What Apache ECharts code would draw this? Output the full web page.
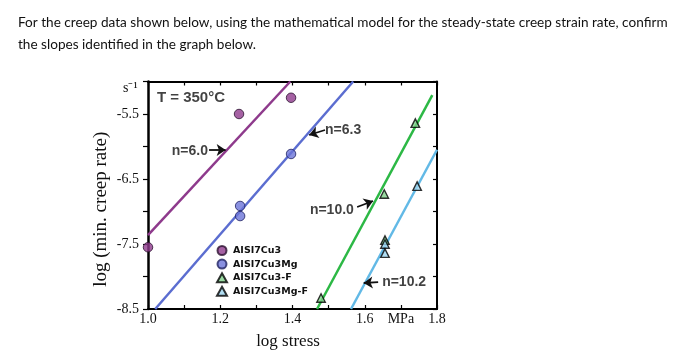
<!DOCTYPE html>
<html>
<head>
<meta charset="utf-8">
<script src="https://cdn.jsdelivr.net/npm/echarts@6/dist/echarts.min.js"></script>
<style>
html,body{margin:0;padding:0;background:#fff;}
#chart{width:696px;height:360px;}
</style>
</head>
<body>
<div id="chart"></div>
<script>
// ---- data (log stress [MPa], log min. creep rate [s^-1]) ----
var seriesNames = ['AISI7Cu3', 'AISI7Cu3Mg', 'AISI7Cu3-F', 'AISI7Cu3Mg-F'];
var cu3Points   = [[1.0, -7.55], [1.252, -5.50], [1.396, -5.25]];
var cu3MgPoints = [[1.255, -6.915], [1.255, -7.07], [1.396, -6.115]];
var cu3FPoints  = [[1.479, -8.33], [1.656, -7.44], [1.654, -6.73], [1.740, -5.64]];
var cu3MgFPoints = [[1.656, -7.50], [1.656, -7.64], [1.745, -6.61]];

// fitted lines (endpoints in data units)
var fit60  = [[1.0, -7.362], [1.394, -5.0]];
var fit63  = [[1.02, -8.5], [1.568, -5.0]];
var fit100 = [[1.468, -8.5], [1.787, -5.21]];
var fit102 = [[1.562, -8.5], [1.8, -6.05]];

// annotation texts and their anchor points
var noteTexts = ['T = 350°C', 'n=6.0', 'n=6.3', 'n=10.0', 'n=10.2'];
var notePoints = [[1.119, -5.254], [1.116, -6.069], [1.540, -5.746], [1.509, -6.977], [1.709, -8.085]];
var arrowFrom = [[1.169, -6.054], [1.490, -5.746], [1.579, -6.931], [1.637, -8.085]];
var arrowTo   = [[1.215, -6.054], [1.446, -5.823], [1.623, -6.838], [1.597, -8.10]];

// tick labels
var xLabelValues = [1.0, 1.2, 1.4, 1.6, 1.7, 1.8];
var xLabelTexts  = ['1.0', '1.2', '1.4', '1.6', 'MPa', '1.8'];
var yLabelValues = [-5.5, -6.5, -7.5, -8.5];
var yLabelTexts  = ['-5.5', '-6.5', '-7.5', '-8.5'];

var titleLines = [
  'For the creep data shown below, using the mathematical model for the steady-state creep strain rate, confirm',
  'the slopes identified in the graph below.'
];

function lookup(vals, texts, v) {
  for (var i = 0; i < vals.length; i++) {
    if (Math.abs(vals[i] - v) < 1e-6) return texts[i];
  }
  return '';
}

var SERIF = 'Liberation Serif';
var SANS = 'Liberation Sans';
var purple = '#8e3a8c', blue = '#5b6dd0', green = '#2cb845', lblue = '#62b9e6';

var chart = echarts.init(document.getElementById('chart'), null, {renderer: 'canvas'});

function fitSeries(name, d, c) {
  return {name: name, type: 'line', data: d, showSymbol: false, symbol: 'none', silent: true,
          lineStyle: {color: c, width: 2.5}, z: 2, animation: false};
}

var markLineData = arrowFrom.map(function (p, i) {
  return [{coord: p}, {coord: arrowTo[i]}];
});

var option = {
  backgroundColor: '#fff',
  animation: false,
  title: {
    text: titleLines.join('\n'),
    left: 13, top: 7,
    textStyle: {fontFamily: 'Lato', fontSize: 13.6, fontWeight: 'normal', color: '#111', lineHeight: 22}
  },
  grid: {left: 148, top: 81.5, width: 289, height: 227.5},
  legend: {
    data: seriesNames.map(function (n) { return {name: n}; }),
    orient: 'vertical',
    left: 216, top: 245, padding: 0,
    itemWidth: 10, itemHeight: 9, itemGap: 2.6,
    selectedMode: false,
    textStyle: {fontFamily: 'DejaVu Sans', fontWeight: 'bold', fontSize: 9.5, color: '#111', padding: [0, 0, 0, 1]}
  },
  xAxis: [{
    type: 'value', min: 1.0, max: 1.8, interval: 0.1, position: 'bottom',
    name: 'log stress', nameLocation: 'middle', nameGap: 24,
    nameTextStyle: {fontFamily: SERIF, fontSize: 17, color: '#111', padding: [0, 9, 0, 0]},
    axisLine: {lineStyle: {color: '#000', width: 2}},
    axisTick: {inside: true, length: 4, lineStyle: {color: '#000', width: 1.2}},
    axisLabel: {margin: 3, fontFamily: SERIF, fontSize: 14, color: '#111',
      formatter: function (v) { return lookup(xLabelValues, xLabelTexts, v); }},
    splitLine: {show: false}
  }, {
    type: 'value', min: 1.0, max: 1.8, interval: 0.1, position: 'top',
    axisLine: {lineStyle: {color: '#000', width: 2}},
    axisTick: {inside: true, length: 4, lineStyle: {color: '#000', width: 1.2}},
    axisLabel: {show: false}, splitLine: {show: false}
  }],
  yAxis: [{
    type: 'value', min: -8.5, max: -5.0, interval: 0.5, position: 'left',
    name: 'log (min. creep rate)', nameLocation: 'middle', nameGap: 37, nameRotate: 90,
    nameTextStyle: {fontFamily: SERIF, fontSize: 19, color: '#111', padding: [0, 28, 0, 0]},
    axisLine: {lineStyle: {color: '#000', width: 2.5}},
    axisTick: {inside: false, length: 5, lineStyle: {color: '#000', width: 1.2}},
    axisLabel: {margin: 9, fontFamily: SERIF, fontSize: 14, color: '#111',
      formatter: function (v) { return lookup(yLabelValues, yLabelTexts, v); }},
    splitLine: {show: false}
  }, {
    type: 'value', min: -8.5, max: -5.0, interval: 0.5, position: 'right',
    axisLine: {lineStyle: {color: '#000', width: 2}},
    axisTick: {inside: true, length: 4, lineStyle: {color: '#000', width: 1.2}},
    axisLabel: {show: false}, splitLine: {show: false}
  }],
  graphic: [{
    type: 'text', left: 123, top: 81,
    style: {text: 's\u207B\u00B9', font: '14px "Liberation Serif"', fill: '#111'}
  }],
  series: [
    fitSeries('fit n=6.0', fit60, purple),
    fitSeries('fit n=6.3', fit63, blue),
    fitSeries('fit n=10.0', fit100, green),
    fitSeries('fit n=10.2', fit102, lblue),
    {name: seriesNames[0], type: 'scatter', data: cu3Points, symbol: 'circle', symbolSize: 9.5, z: 5,
     itemStyle: {color: purple, borderColor: '#2a1030', borderWidth: 1}},
    {name: seriesNames[1], type: 'scatter', data: cu3MgPoints, symbol: 'circle', symbolSize: 9.5, z: 5,
     itemStyle: {color: '#6c74d8', borderColor: '#1e2060', borderWidth: 1}},
    {name: seriesNames[2], type: 'scatter', data: cu3FPoints, symbol: 'triangle', symbolSize: 8.5, z: 5,
     itemStyle: {color: '#7fd08a', borderColor: '#000', borderWidth: 1.4}},
    {name: seriesNames[3], type: 'scatter', data: cu3MgFPoints, symbol: 'triangle', symbolSize: 8.5, z: 5,
     itemStyle: {color: '#9fd6f0', borderColor: '#000', borderWidth: 1.4}},
    {name: 'notes', type: 'scatter', silent: true, z: 6,
     data: notePoints.map(function (p, i) {
       return {value: p, name: noteTexts[i], label: i === 0 ? {fontSize: 15} : {}};
     }),
     symbolSize: 0,
     label: {show: true, position: 'inside', formatter: function (p) { return p.name; },
       fontFamily: SANS, fontWeight: 'bold', fontSize: 14, color: '#111'},
     markLine: {
       silent: true, symbol: ['none', 'arrow'], symbolSize: 9,
       label: {show: false},
       itemStyle: {color: '#111'},
       lineStyle: {color: '#111', width: 1.8, type: 'solid'},
       data: markLineData
     }}
  ]
};
chart.setOption(option);
</script>
</body>
</html>
